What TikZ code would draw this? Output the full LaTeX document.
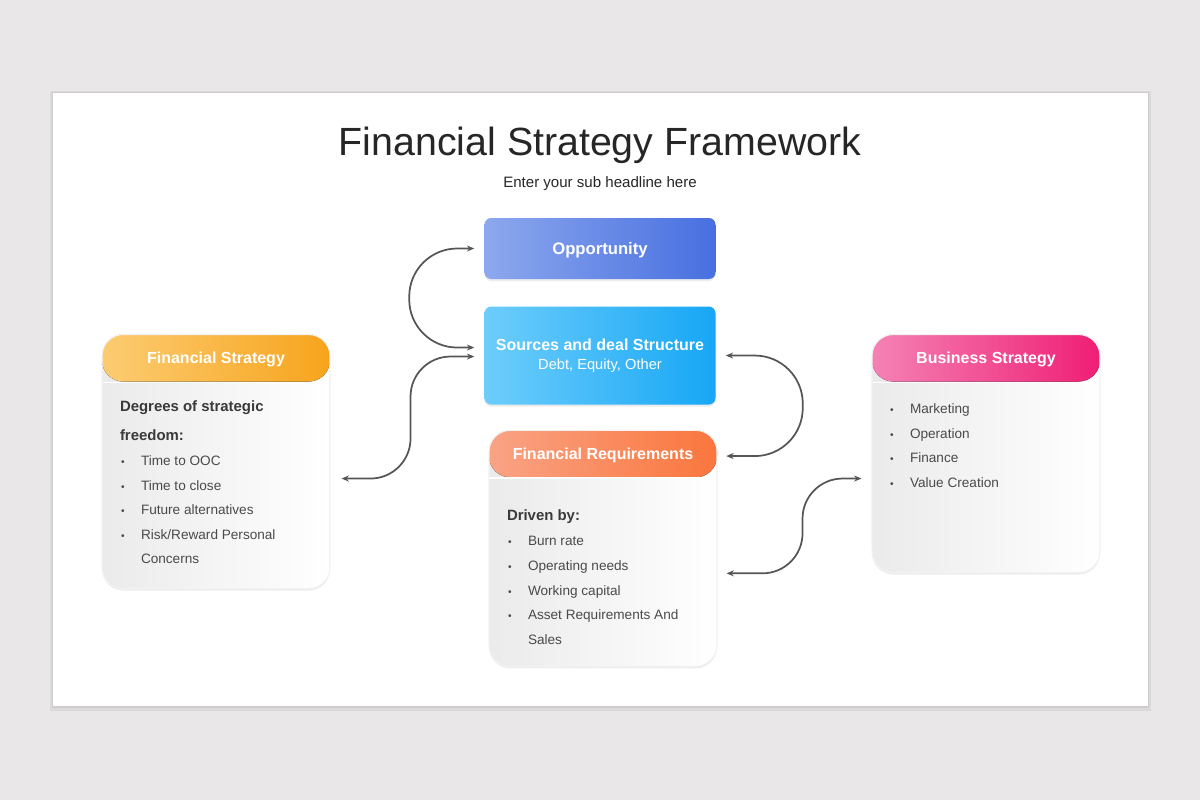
\documentclass[tikz,border=0pt]{standalone}
\usepackage{fontspec}
\setmainfont{Liberation Sans}
\usepackage{graphicx}
\usepackage{tikz}
\usetikzlibrary{arrows.meta, positioning, calc, shadows}

\definecolor{bggray}{HTML}{E9E7E8}
\definecolor{titlegray}{HTML}{262626}
\definecolor{bodygray}{HTML}{4A4A4A}
\definecolor{leadgray}{HTML}{3A3A3A}
\definecolor{linkgray}{HTML}{555555}
\definecolor{oppL}{HTML}{8DA8EE}
\definecolor{oppR}{HTML}{476FE0}
\definecolor{srcL}{HTML}{6DCDFB}
\definecolor{srcR}{HTML}{17A7F5}
\definecolor{reqL}{HTML}{F9A385}
\definecolor{reqR}{HTML}{FA763D}
\definecolor{fsL}{HTML}{FCCC72}
\definecolor{fsR}{HTML}{F7A41C}
\definecolor{bsL}{HTML}{F582B4}
\definecolor{bsR}{HTML}{EF1E75}

\newcommand{\bul}{\makebox[15pt][l]{\scalebox{0.75}{\textbullet}}}

\begin{document}
\begin{tikzpicture}[
    x=0.75pt, y=-0.75pt,
    title/.style={font=\fontsize{29.5}{35}\selectfont, text=titlegray, inner sep=0pt},
    subtitle/.style={font=\fontsize{11.3}{14}\selectfont, text=titlegray, inner sep=0pt},
    tile/.style={rectangle, rounded corners=5pt, minimum width=173.25pt, inner sep=0pt, text=white, align=center,
        font=\bfseries\fontsize{12.5}{15}\selectfont,
        drop shadow={shadow xshift=0pt, shadow yshift=-1.5pt, fill=black, opacity=0.08}},
    card/.style={rectangle, rounded corners=16pt, minimum width=171pt, inner sep=0pt, left color=black!8, right color=white,
        draw=black!5, line width=0.8pt,
        drop shadow={shadow xshift=0pt, shadow yshift=-1.5pt, fill=black, opacity=0.07}},
    band/.style 2 args={path picture={
        \fill[left color=#1, right color=#2] (path picture bounding box.north west) rectangle ([yshift=-35.25pt]path picture bounding box.north east);
        \draw[white, line width=1.2pt] ([yshift=-35.9pt]path picture bounding box.north west) -- ([yshift=-35.9pt]path picture bounding box.north east);}},
    headtext/.style={minimum width=171pt, minimum height=35.25pt, inner sep=0pt, text=white, text height=8.6pt, text depth=0pt,
        font=\bfseries\fontsize{12}{14}\selectfont},
    lead/.style={anchor=north west, inner sep=0pt, align=left, text=leadgray, font=\bfseries\fontsize{11.2}{21.75}\selectfont},
    listtext/.style={anchor=north west, inner sep=0pt, align=left, text=bodygray, font=\fontsize{10.2}{18.4}\selectfont},
    link/.style={{Stealth[length=5.5pt,width=4.5pt]}-{Stealth[length=5.5pt,width=4.5pt]}, line width=1.3pt, draw=linkgray}
]

% Slide
\fill[bggray] (0,0) rectangle (1200,800);
\fill[black, opacity=0.06] (50,91) rectangle (1151,711);
\fill[black, opacity=0.06] (52,92) rectangle (1149,708);
\fill[white] (53,93) rectangle (1148,706);

% Headline
\node[title, anchor=base] (title) at (600,155) {Financial Strategy Framework};
\node[subtitle, anchor=base] (subtitle) at (600,187.5) {Enter your sub headline here};

% Centre column
\node[tile, left color=oppL, right color=oppR, minimum height=45.75pt, text height=8.95pt, text depth=0pt] (opp) at (600,248.5) {Opportunity};
\node[tile, left color=srcL, right color=srcR, minimum height=73.5pt, below=20.25pt of opp,
    font=\fontsize{12}{14.25}\selectfont] (src) {\textbf{Sources and deal Structure}\\{\fontsize{11}{14.25}\selectfont Debt, Equity, Other}};

% Financial Requirements
\node[card, band={reqL}{reqR}, minimum height=177pt, below=18.75pt of src, xshift=2.25pt] (reqcard) {};
\node[headtext, anchor=north] (reqhead) at (reqcard.north) {Financial Requirements};
\node[lead] (reqlead) at ($(reqhead.south west)+(18,32)$) {Driven by:};
\node[listtext] (reqlist) at ($(reqhead.south west)+(19,59)$) {\bul Burn rate\\ \bul Operating needs\\ \bul Working capital\\ \bul Asset Requirements And\\ \hspace*{15pt}Sales};

% Financial Strategy
\node[card, band={fsL}{fsR}, minimum height=190.5pt, anchor=north] (fscard) at (216,334) {};
\node[headtext, anchor=north] (fshead) at (fscard.north) {Financial Strategy};
\node[lead] (fslead) at ($(fshead.south west)+(18,19)$) {Degrees of strategic\\freedom:};
\node[listtext] (fslist) at ($(fshead.south west)+(19,74)$) {\bul Time to OOC\\ \bul Time to close\\ \bul Future alternatives\\ \bul Risk/Reward Personal\\ \hspace*{15pt}Concerns};

% Business Strategy
\node[card, band={bsL}{bsR}, minimum height=178.5pt, anchor=north] (bscard) at (986,334) {};
\node[headtext, anchor=north] (bshead) at (bscard.north) {Business Strategy};
\node[listtext] (bslist) at ($(bshead.south west)+(18,22)$) {\bul Marketing\\ \bul Operation\\ \bul Finance\\ \bul Value Creation};

% Links
\draw[link, rounded corners=36pt] ($(opp.west)+(-10,0)$) -- ++(-65,0) |- ($(src.west)+(-10,-8)$);
\draw[link, rounded corners=30pt] ($(fscard.east)+(11,17)$) -- ++(69,0) |- ($(src.west)+(-10,1)$);
\draw[link, rounded corners=36pt] ($(src.east)+(10,0)$) -- ++(77,0) |- ($(reqhead.east)+(9,2.5)$);
\draw[link, rounded corners=30pt] ($(reqcard.east)+(9,25)$) -- ++(76,0) |- ($(bscard.west)+(-10,25)$);

\end{tikzpicture}
\end{document}
